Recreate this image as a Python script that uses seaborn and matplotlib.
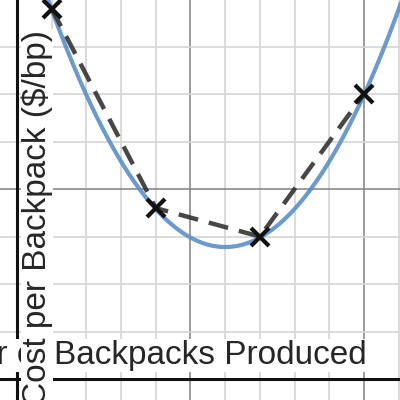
import numpy as np
import pandas as pd
import seaborn as sns
import matplotlib
matplotlib.use("Agg")
import matplotlib.pyplot as plt

# observed points
backpacks = [1, 4, 7, 10]
cost_per_bp = [7.8, 3.6, 3.0, 6.0]

# quadratic model in vertex form: a*(x-h)^2 + k
model_a = 0.2
model_h = 6.0
model_k = 2.78

points = pd.DataFrame({"x": backpacks, "y": cost_per_bp})
xs = np.linspace(-0.5, 11.1, 300)
curve = pd.DataFrame({"x": xs, "y": model_a * (xs - model_h) ** 2 + model_k})

sns.set_style("white")
fig = plt.figure(figsize=(4, 4), dpi=100)
ax = fig.add_axes([0, 0, 1, 1])
ax.set_xlim(-0.49, 11.04)
ax.set_ylim(-0.44, 7.98)

# grid: minor every unit, major every 5 (x) / 4 (y)
for gx in range(0, 12):
    ax.axvline(gx, color="#8a8a8a" if gx % 5 == 0 else "#d4d4d4", lw=1.2, zorder=0)
for gy in range(0, 9):
    ax.axhline(gy, color="#8a8a8a" if gy % 4 == 0 else "#d4d4d4", lw=1.2, zorder=0)
ax.axvline(0, color="#111", lw=2.2, zorder=1)
ax.axhline(0, color="#111", lw=2.2, zorder=1)

sns.lineplot(data=curve, x="x", y="y", ax=ax, color="#5b8fc7", lw=3, alpha=0.9, zorder=3)
sns.lineplot(data=points, x="x", y="y", ax=ax, color="#333", lw=3.2, alpha=0.9,
             linestyle=(0, (4.5, 2.5)), zorder=4)
ax.plot(points["x"], points["y"], "x", color="#111", ms=13, mew=3, zorder=5)

for s in ax.spines.values():
    s.set_visible(False)
ax.set_xticks([])
ax.set_yticks([])
ax.set_xlabel("")
ax.set_ylabel("")

fig.text(367 / 400, 1 - 364 / 400, "Number of Backpacks Produced", ha="right", va="baseline",
         fontsize=24, family="Liberation Sans", zorder=6,
         bbox=dict(facecolor="white", edgecolor="none", pad=0.5))
fig.text(37 / 400, 1 - 30 / 400, "Cost per Backpack ($/bp)", rotation=90, ha="center", va="top",
         fontsize=24, family="Liberation Sans", zorder=7,
         bbox=dict(facecolor="white", edgecolor="none", pad=0.5))

fig.savefig("out.png", dpi=100)
